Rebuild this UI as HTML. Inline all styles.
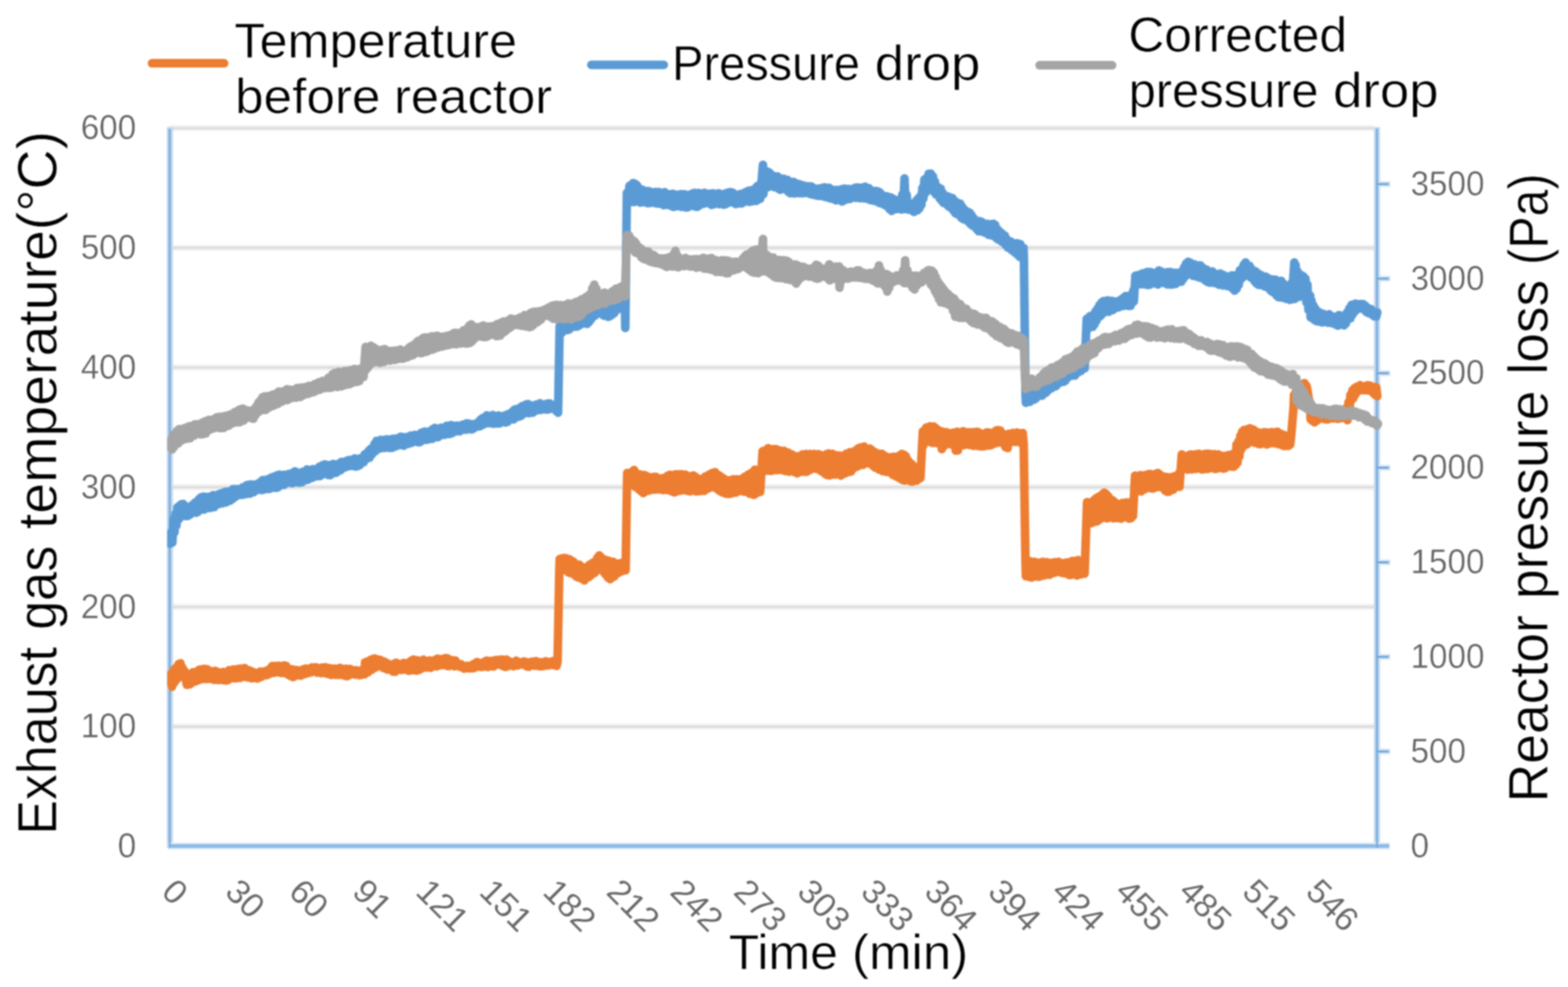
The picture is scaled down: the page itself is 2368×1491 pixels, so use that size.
<!DOCTYPE html>
<html lang="en">
<head>
<meta charset="utf-8">
<title>Exhaust gas temperature and reactor pressure loss</title>
<style>
html,body{margin:0;padding:0;background:#fff;}
body{width:2368px;height:1491px;overflow:hidden;}
svg{display:block;filter:blur(0.8px);}
text{font-family:"Liberation Sans", sans-serif;}
.tick{font-size:52px;fill:#626262;stroke:#fff;stroke-width:0.5px;}
.lg{font-size:74.5px;fill:#000;stroke:#fff;stroke-width:0.7px;}
.ax{font-size:84px;fill:#000;stroke:#fff;stroke-width:0.7px;}
.s{fill:none;stroke-linejoin:round;stroke-linecap:round;stroke-width:13;}
</style>
</head>
<body>
<svg width="2368" height="1491" viewBox="0 0 2368 1491">
<rect width="2368" height="1491" fill="#fff"/>
<g stroke="#f1f1f1" stroke-width="9">
<line x1="255" y1="193.6" x2="2076" y2="193.6"/>
<line x1="255" y1="374.4" x2="2076" y2="374.4"/>
<line x1="255" y1="555.2" x2="2076" y2="555.2"/>
<line x1="255" y1="736.0" x2="2076" y2="736.0"/>
<line x1="255" y1="916.8" x2="2076" y2="916.8"/>
<line x1="255" y1="1097.6" x2="2076" y2="1097.6"/>
</g>
<g stroke="#dcdcdc" stroke-width="3.2">
<line x1="255" y1="193.6" x2="2076" y2="193.6"/>
<line x1="255" y1="374.4" x2="2076" y2="374.4"/>
<line x1="255" y1="555.2" x2="2076" y2="555.2"/>
<line x1="255" y1="736.0" x2="2076" y2="736.0"/>
<line x1="255" y1="916.8" x2="2076" y2="916.8"/>
<line x1="255" y1="1097.6" x2="2076" y2="1097.6"/>
</g>
<g stroke="#c3d9ef" stroke-width="9.4" fill="none">
<line x1="256.6" y1="192" x2="256.6" y2="1281"/>
<line x1="2079.5" y1="192" x2="2079.5" y2="1281"/>
</g>
<g stroke="#e6eff9" stroke-width="11.6" fill="none">
<line x1="254" y1="1278.1" x2="2099" y2="1278.1"/>
</g>
<g stroke="#d3e3f3" stroke-width="8.4" fill="none">
<line x1="2082" y1="1135.2" x2="2099.5" y2="1135.2"/>
<line x1="2082" y1="992.3" x2="2099.5" y2="992.3"/>
<line x1="2082" y1="849.5" x2="2099.5" y2="849.5"/>
<line x1="2082" y1="706.6" x2="2099.5" y2="706.6"/>
<line x1="2082" y1="563.8" x2="2099.5" y2="563.8"/>
<line x1="2082" y1="420.9" x2="2099.5" y2="420.9"/>
<line x1="2082" y1="278.1" x2="2099.5" y2="278.1"/>
</g>
<g stroke="#8fbce4" stroke-width="5.9" fill="none">
<line x1="254.9" y1="1278" x2="2098" y2="1278"/>
</g>
<g stroke="#7aacdd" stroke-width="3.1" fill="none">
<line x1="256.3" y1="194.5" x2="256.3" y2="1281"/>
<line x1="2079.5" y1="194.5" x2="2079.5" y2="1281"/>
</g>
<g stroke="#66a1d8" stroke-width="2.9" fill="none">
<line x1="2080" y1="1135.2" x2="2097.5" y2="1135.2"/>
<line x1="2080" y1="992.3" x2="2097.5" y2="992.3"/>
<line x1="2080" y1="849.5" x2="2097.5" y2="849.5"/>
<line x1="2080" y1="706.6" x2="2097.5" y2="706.6"/>
<line x1="2080" y1="563.8" x2="2097.5" y2="563.8"/>
<line x1="2080" y1="420.9" x2="2097.5" y2="420.9"/>
<line x1="2080" y1="278.1" x2="2097.5" y2="278.1"/>
</g>
<clipPath id="plot"><rect x="252.6" y="180" width="1838" height="1110"/></clipPath>
<g clip-path="url(#plot)">
<polyline class="s" stroke="#ed7d31" points="257.0,1030.5 258.4,1017.7 259.8,1037.4 261.2,1014.9 262.6,1032.3 264.0,1010.4 265.4,1028.2 266.8,1007.9 268.2,1025.1 269.7,1003.1 271.1,1018.6 272.5,1001.9 273.9,1019.3 275.2,1008.1 276.6,1022.8 278.0,1012.8 282.2,1034.5 282.8,1019.0 284.0,1032.8 285.5,1018.1 287.0,1033.7 288.5,1018.9 290.0,1030.4 291.5,1015.6 293.0,1030.0 294.5,1016.8 296.0,1028.8 297.5,1014.3 299.0,1027.9 300.5,1011.8 302.0,1026.2 303.5,1011.4 305.0,1025.9 306.5,1010.7 308.0,1025.3 309.6,1010.6 311.1,1025.8 312.6,1010.9 314.1,1024.4 315.7,1013.3 317.2,1025.6 318.7,1013.9 320.2,1024.9 321.7,1015.7 323.3,1027.1 324.8,1013.5 326.3,1026.3 327.8,1014.6 329.3,1027.3 330.9,1016.2 332.4,1026.7 333.9,1016.7 335.4,1027.3 337.0,1015.1 338.5,1027.4 340.0,1016.5 341.5,1028.1 342.9,1015.2 344.4,1027.2 345.9,1012.4 347.4,1025.2 348.8,1013.5 350.3,1024.6 351.8,1011.5 353.2,1024.5 354.7,1012.1 356.2,1024.7 357.6,1010.9 359.1,1023.7 360.6,1010.5 362.1,1024.3 363.5,1010.1 365.0,1022.9 366.5,1010.1 367.9,1021.2 369.4,1009.2 370.9,1022.8 372.4,1012.6 373.8,1023.3 375.3,1012.5 376.8,1022.1 378.2,1013.3 379.7,1024.5 381.2,1015.0 382.6,1024.2 384.1,1016.7 385.6,1023.0 387.1,1016.6 388.5,1025.0 390.0,1017.2 391.5,1023.7 393.0,1014.6 394.5,1022.5 396.0,1015.1 397.5,1019.3 399.0,1014.2 400.5,1020.1 402.0,1013.5 403.5,1019.7 405.0,1012.2 406.5,1018.1 408.0,1009.9 409.5,1016.4 411.0,1006.2 412.5,1016.6 414.0,1006.1 415.5,1015.2 417.0,1006.2 418.5,1015.6 420.0,1005.7 421.5,1015.4 423.0,1006.1 424.5,1016.5 426.0,1006.6 427.5,1016.6 429.0,1005.3 430.5,1016.4 432.0,1005.9 433.5,1018.0 435.0,1009.3 436.5,1020.1 438.0,1011.5 439.5,1021.6 441.0,1011.2 442.5,1022.9 444.0,1013.0 445.5,1021.2 447.0,1012.1 448.5,1020.3 450.0,1014.9 451.5,1020.2 453.0,1012.7 454.5,1020.5 456.0,1012.1 457.5,1018.2 459.0,1010.8 460.5,1018.3 462.0,1009.9 463.5,1016.9 465.0,1011.0 466.5,1016.4 468.0,1010.0 469.5,1015.7 471.0,1008.2 472.5,1014.6 474.0,1008.6 475.5,1014.1 477.1,1008.0 478.6,1016.2 480.1,1009.0 481.6,1015.3 483.1,1009.9 484.6,1016.9 486.2,1008.6 487.7,1015.2 489.2,1008.2 490.7,1016.8 492.2,1008.1 493.8,1017.7 495.3,1009.9 496.8,1017.8 498.3,1009.3 499.8,1019.5 501.3,1011.1 502.9,1018.9 504.4,1010.1 505.9,1019.2 507.4,1010.2 508.9,1019.2 510.4,1010.0 512.0,1019.5 513.5,1009.0 515.0,1018.5 516.5,1011.8 518.0,1020.0 519.6,1010.8 521.1,1020.8 522.6,1010.3 524.1,1021.5 525.7,1011.7 527.2,1019.9 528.7,1010.6 530.2,1017.5 531.8,1012.3 533.3,1016.3 534.8,1013.1 536.3,1019.1 537.9,1012.5 539.4,1017.7 540.9,1013.4 542.4,1019.9 544.0,1013.2 545.5,1019.4 547.0,1011.9 550.7,1018.5 551.3,1000.5 552.5,1016.7 554.0,999.5 555.5,1015.8 557.0,998.6 558.5,1012.7 560.0,996.4 561.4,1011.7 562.9,995.5 564.3,1009.4 565.7,994.7 567.1,1008.4 568.6,995.9 570.0,1003.7 572.7,996.5 573.3,1004.5 574.4,996.9 575.8,1004.9 577.2,999.9 578.6,1008.9 580.0,999.5 581.5,1009.1 583.0,1000.8 584.5,1011.4 586.0,1002.9 587.5,1011.1 589.0,1004.2 590.5,1012.4 592.0,1003.8 593.5,1014.6 595.0,1003.0 596.5,1014.7 598.0,1001.2 599.4,1012.4 600.9,1003.0 602.4,1011.3 603.9,1003.2 605.3,1012.1 606.8,1003.5 608.3,1011.7 609.8,1001.5 611.2,1011.1 612.7,1002.2 614.2,1011.9 615.7,1002.7 617.2,1013.3 618.6,999.7 620.1,1012.8 621.6,997.8 623.1,1010.6 624.5,996.4 626.0,1012.4 627.5,998.1 629.0,1013.1 630.5,997.5 632.0,1012.3 633.6,998.7 635.1,1010.8 636.6,998.6 638.1,1009.1 639.6,996.6 641.1,1008.2 642.7,998.5 644.2,1008.5 645.7,999.6 647.2,1008.1 648.7,997.7 650.2,1008.9 651.7,998.7 653.3,1006.2 654.8,998.6 656.3,1004.8 657.8,996.4 659.3,1006.8 660.8,994.9 662.3,1005.3 663.9,997.5 665.4,1004.9 666.9,995.7 668.4,1003.5 669.9,995.0 671.4,1004.7 673.0,994.1 674.5,1005.7 676.0,994.6 677.5,1006.3 679.0,997.5 680.4,1005.1 681.9,997.5 683.4,1005.5 684.9,997.6 686.3,1006.6 687.8,998.0 689.3,1005.5 690.7,1001.8 692.2,1006.3 693.7,1003.2 695.1,1007.5 696.6,1003.6 698.1,1007.5 699.6,1006.0 701.0,1010.2 702.5,1007.9 704.0,1009.3 705.5,1005.8 706.9,1009.6 708.4,1006.3 709.9,1009.4 711.4,1005.5 712.8,1009.6 714.3,1003.5 715.8,1009.2 717.3,1002.1 718.8,1007.8 720.2,1000.2 721.7,1007.0 723.2,1001.9 724.7,1007.0 726.1,1001.5 727.6,1007.6 729.1,1001.9 730.6,1006.8 732.0,999.5 733.5,1006.0 735.0,997.9 736.5,1007.5 738.0,999.5 739.5,1006.3 740.9,998.4 742.4,1006.5 743.9,998.6 745.4,1006.8 746.9,997.5 748.4,1004.7 749.9,996.9 751.4,1003.8 752.8,997.7 754.3,1003.2 755.8,996.4 757.3,1005.0 758.8,996.5 760.3,1006.5 761.8,997.3 763.2,1007.5 764.7,996.4 766.2,1006.7 767.7,998.4 769.2,1004.7 770.7,1000.0 772.2,1003.9 773.6,1000.3 775.1,1006.4 776.6,1000.6 778.1,1005.3 779.6,998.1 781.1,1005.4 782.6,999.8 784.1,1004.6 785.5,1000.6 787.0,1003.5 788.5,1001.0 790.0,1002.5 791.5,999.2 793.0,1005.3 794.4,1000.0 795.9,1006.9 797.4,1000.7 798.9,1007.2 800.4,1000.5 801.9,1005.4 803.3,999.6 804.8,1004.4 806.3,1000.1 807.8,1005.7 809.3,998.8 810.8,1004.3 812.2,1000.7 813.7,1006.3 815.2,1000.3 816.7,1006.4 818.2,1001.2 819.6,1006.2 821.1,1000.1 822.6,1005.8 824.1,999.0 825.6,1004.4 827.1,999.9 828.5,1005.1 830.0,1000.1 831.5,1004.3 833.0,999.6 834.5,1004.3 836.0,998.4 837.5,1004.9 839.0,1000.5 840.5,1005.9 842.0,1000.1 844.7,861.5 845.3,844.5 846.4,860.5 847.9,843.4 849.3,859.4 850.7,843.1 852.1,861.0 853.6,843.0 855.0,861.8 856.5,844.1 858.1,864.5 859.6,844.7 861.1,865.7 862.6,846.8 864.2,865.9 865.7,848.6 867.2,868.0 868.8,852.3 870.3,871.1 871.8,852.8 873.3,872.4 874.9,853.2 876.4,871.5 877.9,855.9 879.4,874.7 881.0,857.0 882.5,876.7 884.0,858.9 885.5,873.0 887.0,856.8 888.5,871.9 890.0,853.2 891.5,869.7 893.0,851.4 894.5,867.1 896.0,849.6 897.5,865.7 899.0,847.9 900.5,862.6 902.0,842.8 903.5,858.7 905.0,838.9 906.5,859.5 908.0,842.3 909.5,860.9 911.0,844.7 912.5,865.6 914.0,845.7 915.5,868.9 917.0,846.5 918.5,873.0 920.0,847.4 921.5,874.9 923.1,849.6 924.6,872.3 926.2,848.8 927.7,871.0 929.2,851.0 930.8,866.5 932.3,851.5 933.8,865.6 935.4,851.3 936.9,863.7 938.5,850.4 940.0,862.6 944.2,849.5 944.8,861.5 947.2,714.5 947.8,733.5 948.9,716.8 950.4,733.6 951.8,715.9 953.2,732.9 954.6,712.5 956.1,732.2 957.5,709.9 959.1,735.5 960.6,714.4 962.2,736.6 963.8,716.5 965.3,739.8 966.9,716.7 968.4,742.5 970.0,718.3 971.5,745.0 972.9,717.4 974.4,742.9 975.9,718.7 977.4,740.6 978.8,720.2 980.3,741.2 981.8,722.0 983.2,739.6 984.7,721.0 986.2,739.6 987.6,720.6 989.1,739.4 990.6,720.4 992.1,739.2 993.5,722.4 995.0,739.2 996.5,724.0 998.0,739.1 999.4,722.5 1000.9,740.3 1002.4,722.5 1003.9,740.1 1005.3,720.8 1006.8,739.1 1008.3,718.6 1009.8,740.6 1011.2,717.2 1012.7,741.4 1014.2,717.8 1015.7,742.8 1017.2,718.6 1018.6,743.8 1020.1,716.5 1021.6,742.7 1023.1,716.8 1024.5,741.6 1026.0,716.4 1027.5,741.3 1029.0,716.6 1030.5,739.6 1032.0,717.0 1033.5,740.4 1035.0,717.0 1036.5,740.6 1038.0,719.0 1039.5,741.8 1041.0,719.3 1042.5,742.3 1044.0,719.3 1045.5,740.9 1047.0,718.2 1048.5,740.4 1050.0,720.1 1051.5,742.4 1053.0,722.2 1054.5,742.1 1056.0,724.3 1057.5,741.8 1059.0,724.2 1060.5,740.5 1062.0,722.8 1063.5,741.6 1065.0,719.8 1066.5,738.8 1068.0,718.8 1069.5,738.2 1071.0,716.8 1072.5,735.5 1074.0,715.2 1075.5,735.2 1077.0,713.9 1078.5,736.3 1080.0,713.3 1081.5,737.4 1083.0,716.8 1084.5,739.8 1086.0,718.1 1087.5,742.0 1089.0,720.3 1090.5,743.7 1092.0,722.3 1093.5,744.7 1095.0,724.3 1096.5,745.8 1097.9,725.5 1099.4,746.1 1100.9,725.8 1102.4,746.0 1103.8,725.9 1105.3,745.2 1106.8,724.1 1108.2,743.2 1109.7,724.5 1111.2,744.3 1112.6,724.1 1114.1,742.0 1115.6,725.0 1117.1,741.7 1118.5,724.1 1120.0,739.8 1121.5,722.8 1123.1,742.5 1124.6,720.2 1126.2,742.9 1127.7,718.7 1129.2,742.3 1130.8,716.4 1132.3,745.9 1133.8,714.9 1135.4,746.2 1136.9,713.1 1138.5,747.6 1140.0,709.4 1141.6,745.8 1143.2,712.0 1144.8,743.3 1146.4,710.9 1148.0,743.2 1151.7,681.5 1152.3,711.5 1153.6,681.1 1155.2,710.3 1156.8,679.7 1158.4,711.1 1160.0,677.0 1161.5,711.0 1163.0,678.9 1164.5,711.4 1166.0,678.5 1167.5,710.7 1169.0,678.4 1170.5,710.0 1172.0,678.4 1173.5,710.3 1175.0,681.2 1176.5,708.6 1178.0,680.6 1179.5,709.9 1181.0,682.3 1182.5,710.0 1184.0,681.1 1185.6,711.6 1187.1,683.0 1188.7,710.8 1190.2,683.7 1191.7,712.6 1193.3,685.8 1194.8,711.9 1196.3,686.7 1197.9,712.0 1199.4,688.8 1201.0,713.6 1202.5,690.1 1204.0,715.1 1205.5,689.2 1207.0,713.3 1208.5,688.5 1210.0,711.6 1211.5,686.6 1213.0,712.4 1214.5,686.4 1216.0,712.7 1217.5,685.8 1219.0,712.4 1220.5,687.3 1222.0,710.3 1223.5,685.8 1225.0,709.2 1226.5,686.5 1228.0,707.1 1229.5,685.7 1231.0,705.5 1232.5,686.8 1234.0,708.5 1235.6,685.9 1237.1,708.3 1238.7,687.3 1240.2,711.8 1241.7,689.0 1243.3,713.6 1244.8,687.7 1246.3,716.2 1247.9,686.1 1249.4,717.7 1251.0,685.1 1252.5,718.2 1254.0,686.1 1255.4,717.5 1256.9,685.4 1258.3,716.6 1259.8,687.4 1261.2,717.0 1262.7,687.7 1264.2,716.2 1265.6,688.3 1267.1,716.2 1268.5,688.2 1270.0,718.4 1271.5,689.2 1273.0,714.9 1274.6,688.3 1276.1,715.3 1277.6,685.6 1279.1,713.0 1280.7,684.6 1282.2,713.1 1283.7,683.0 1285.2,712.3 1286.7,683.0 1288.3,708.5 1289.8,683.2 1291.3,705.2 1292.8,679.9 1294.3,705.1 1295.9,677.4 1297.4,703.3 1298.9,675.9 1300.4,702.0 1302.0,677.2 1303.5,702.2 1305.0,674.5 1306.5,699.7 1308.0,677.7 1309.5,699.5 1311.0,677.9 1312.5,700.0 1314.0,677.8 1315.5,700.5 1317.0,680.3 1318.5,703.8 1320.0,682.4 1321.5,706.5 1323.0,683.9 1324.5,706.7 1326.0,685.2 1327.5,709.5 1329.0,686.5 1330.4,709.0 1331.9,685.6 1333.3,711.8 1334.8,687.7 1336.2,711.8 1337.7,689.4 1339.2,713.1 1340.6,690.6 1342.1,712.5 1343.5,691.2 1345.0,714.1 1346.5,690.5 1348.1,717.2 1349.6,689.9 1351.2,718.6 1352.7,690.2 1354.2,720.2 1355.8,690.0 1357.3,721.6 1358.8,687.7 1360.4,723.7 1361.9,685.7 1363.5,725.2 1365.0,686.8 1366.5,726.1 1368.0,689.1 1369.5,724.0 1371.0,695.1 1372.5,724.7 1374.0,698.6 1375.5,727.3 1377.0,701.2 1378.5,727.4 1380.0,706.1 1381.4,725.6 1382.9,705.7 1384.3,726.2 1385.7,707.0 1387.1,723.7 1388.6,706.1 1390.0,722.3 1393.7,651.5 1394.3,673.5 1395.5,652.0 1397.0,667.8 1398.5,646.1 1400.0,666.7 1401.4,645.6 1402.9,666.6 1404.3,643.9 1405.7,668.2 1407.1,645.4 1408.6,669.2 1410.0,644.3 1411.6,668.6 1413.2,646.6 1414.8,669.4 1416.4,649.5 1418.0,669.4 1421.7,651.5 1422.3,678.5 1423.7,652.6 1425.3,673.9 1427.0,652.8 1428.4,669.2 1429.9,653.1 1431.3,669.5 1432.8,654.6 1434.2,670.8 1435.7,654.8 1437.1,671.5 1438.6,653.8 1440.0,672.8 1441.7,654.4 1443.3,680.7 1445.0,652.2 1446.7,680.4 1448.3,653.0 1450.0,670.0 1451.5,652.8 1452.9,671.1 1454.4,651.5 1455.9,672.5 1457.4,653.2 1458.8,671.5 1460.3,652.9 1461.8,671.0 1463.2,652.9 1464.7,672.3 1466.2,653.6 1467.6,672.1 1469.1,652.8 1470.6,673.5 1472.1,653.0 1473.5,672.0 1475.0,652.3 1476.5,673.6 1477.9,653.1 1479.4,674.0 1480.9,655.0 1482.4,674.3 1483.8,655.5 1485.3,674.2 1486.8,656.1 1488.2,673.6 1489.7,653.3 1491.2,672.1 1492.6,653.3 1494.1,673.0 1495.6,654.0 1497.1,672.2 1498.5,654.0 1500.0,670.4 1501.5,653.8 1503.0,669.8 1504.5,650.3 1506.0,668.5 1507.5,649.7 1509.0,668.4 1510.5,650.6 1512.0,667.8 1513.5,654.4 1515.0,669.3 1516.7,657.9 1518.3,675.3 1520.0,658.0 1521.7,676.8 1523.3,655.3 1525.0,668.2 1526.5,655.6 1528.0,667.6 1529.5,654.1 1531.0,667.1 1532.5,655.1 1534.0,667.6 1535.5,653.4 1537.0,666.0 1538.5,655.3 1540.0,667.1 1541.5,654.4 1543.0,670.2 1544.5,654.3 1546.0,670.8 1548.7,848.5 1549.3,870.5 1550.5,849.1 1552.0,870.6 1553.5,847.8 1555.0,871.8 1556.5,848.1 1558.0,872.5 1559.5,849.2 1561.0,871.2 1562.5,848.7 1564.0,870.7 1565.5,850.0 1567.0,871.1 1568.5,849.9 1570.0,871.2 1571.5,851.0 1573.0,869.0 1574.5,848.7 1576.0,869.4 1577.5,849.6 1579.0,868.6 1580.5,849.2 1582.0,867.6 1583.5,850.5 1585.0,868.3 1586.5,850.2 1588.0,865.7 1589.5,851.1 1591.0,865.6 1592.5,849.3 1594.0,864.8 1595.5,850.2 1597.0,863.1 1598.5,848.7 1600.0,863.1 1601.5,850.5 1602.9,865.3 1604.4,851.6 1605.9,865.8 1607.4,850.6 1608.8,866.3 1610.3,849.7 1611.8,866.6 1613.2,850.2 1614.7,868.5 1616.2,848.8 1617.6,868.5 1619.1,847.5 1620.6,867.3 1622.1,847.4 1623.5,867.9 1625.0,847.4 1626.4,869.4 1627.9,846.1 1629.3,868.3 1630.8,848.5 1632.2,867.8 1633.7,848.2 1635.1,865.8 1636.6,847.4 1638.0,866.6 1641.7,758.5 1642.3,788.5 1643.6,759.9 1645.2,789.4 1646.8,758.9 1648.4,790.2 1650.0,757.4 1651.5,788.2 1652.9,754.7 1654.4,788.1 1655.8,752.2 1657.3,787.4 1658.8,750.6 1660.2,785.2 1661.7,749.0 1663.1,782.7 1664.6,747.1 1666.0,782.1 1667.5,744.2 1669.0,780.9 1670.6,746.3 1672.1,783.1 1673.7,749.6 1675.2,782.1 1676.7,754.0 1678.3,781.5 1679.8,755.4 1681.3,782.9 1682.9,757.9 1684.4,782.6 1686.0,760.4 1687.5,782.6 1689.0,761.5 1690.4,782.6 1691.9,762.5 1693.3,783.5 1694.8,759.8 1696.2,781.7 1697.7,761.5 1699.2,781.2 1700.6,759.0 1702.1,780.9 1703.5,759.3 1705.0,783.4 1706.5,759.0 1708.0,782.9 1709.5,760.3 1711.0,779.8 1714.2,718.5 1714.8,741.5 1716.0,719.9 1717.5,741.9 1719.0,719.1 1720.5,741.3 1722.0,717.7 1723.5,742.4 1725.0,718.9 1726.5,739.6 1727.9,718.1 1729.4,738.9 1730.9,718.0 1732.4,737.0 1733.8,716.2 1735.3,736.4 1736.8,715.9 1738.2,737.7 1739.7,717.1 1741.2,738.1 1742.6,716.9 1744.1,735.5 1745.6,715.6 1747.1,735.9 1748.5,714.4 1750.0,735.3 1751.6,716.9 1753.1,735.7 1754.7,719.6 1756.2,736.7 1757.8,720.2 1759.4,741.1 1760.9,720.6 1762.5,742.9 1764.0,721.1 1765.5,742.8 1767.0,722.2 1768.5,739.8 1770.0,720.6 1771.5,739.7 1773.0,719.4 1774.5,736.5 1776.0,719.1 1777.5,734.5 1780.7,714.5 1781.3,735.5 1784.7,686.5 1785.3,709.5 1786.5,687.9 1788.0,706.3 1789.5,689.2 1791.0,707.7 1792.5,689.6 1794.0,709.5 1795.5,687.3 1797.0,708.8 1798.5,686.5 1800.0,709.2 1801.5,687.7 1802.9,707.5 1804.4,686.4 1805.9,708.4 1807.4,686.2 1808.8,706.7 1810.3,685.4 1811.8,707.4 1813.2,686.5 1814.7,709.2 1816.2,686.9 1817.6,709.0 1819.1,685.7 1820.6,708.1 1822.1,685.6 1823.5,708.6 1825.0,685.6 1826.5,707.0 1828.0,686.0 1829.5,707.0 1831.0,686.3 1832.5,707.4 1834.0,685.9 1835.5,708.5 1837.0,687.7 1838.5,707.8 1840.0,686.5 1841.5,706.5 1843.0,688.2 1844.5,706.9 1846.0,689.7 1847.5,707.9 1849.0,688.8 1850.5,706.9 1852.0,688.4 1853.5,704.9 1855.0,687.6 1856.5,704.2 1858.0,687.0 1859.5,704.8 1861.0,689.1 1862.5,705.1 1864.2,684.3 1865.8,703.1 1867.5,671.4 1868.9,698.9 1870.3,666.9 1871.8,689.7 1873.2,658.3 1874.6,679.1 1876.0,651.8 1877.4,674.7 1878.9,649.4 1880.3,671.5 1881.8,649.7 1883.2,671.5 1884.6,647.9 1886.1,668.9 1887.5,646.9 1889.0,665.9 1890.5,648.2 1892.0,666.0 1893.5,649.5 1895.0,668.9 1896.5,652.7 1898.0,668.1 1899.5,652.9 1901.0,670.7 1902.5,654.0 1904.0,670.9 1905.5,654.7 1906.9,669.4 1908.4,653.0 1909.9,668.8 1911.4,653.1 1912.8,671.4 1914.3,653.6 1915.8,670.2 1917.2,653.7 1918.7,669.5 1920.2,652.7 1921.6,669.3 1923.1,653.4 1924.6,669.2 1926.1,652.8 1927.5,670.1 1929.0,652.3 1930.5,670.9 1932.0,654.4 1933.5,671.3 1935.0,655.7 1936.5,672.7 1938.0,656.7 1939.5,673.7 1941.0,658.1 1942.5,673.4 1944.0,659.3 1945.5,673.6 1947.0,658.6 1948.5,671.4 1950.0,658.0 1953.7,613.5 1954.3,596.5 1955.6,606.7 1957.2,590.6 1958.8,599.3 1960.4,585.1 1962.0,591.0 1963.6,580.8 1965.2,587.9 1966.8,580.3 1968.4,584.1 1970.0,578.8 1971.7,585.4 1973.3,583.1 1975.0,592.4 1978.7,616.5 1979.3,633.5 1980.5,619.7 1982.0,635.8 1983.5,625.6 1985.0,638.0 1986.5,625.8 1987.9,635.9 1989.4,626.8 1990.8,633.9 1992.3,628.1 1993.8,632.3 1995.2,628.5 1996.7,631.4 1998.2,628.4 1999.6,633.0 2001.1,626.4 2002.5,633.5 2004.0,624.5 2005.5,633.6 2006.9,624.3 2008.4,632.3 2009.9,623.3 2011.4,632.1 2012.8,623.2 2014.3,632.1 2015.8,624.9 2017.2,631.8 2018.7,623.1 2020.2,632.7 2021.6,625.1 2023.1,632.1 2024.6,624.4 2026.1,631.4 2027.5,625.5 2029.0,630.6 2030.5,623.1 2032.0,632.1 2033.5,616.0 2035.0,634.7 2036.5,607.6 2038.0,619.7 2039.5,596.4 2041.0,604.4 2042.4,589.5 2043.9,601.5 2045.3,586.6 2046.8,596.0 2048.2,584.5 2049.7,591.8 2051.1,583.9 2052.6,589.0 2054.0,581.8 2055.5,589.3 2057.0,583.6 2058.5,589.2 2060.0,584.2 2061.5,589.5 2063.0,582.8 2064.5,589.4 2066.0,582.0 2067.6,589.9 2069.1,582.6 2070.7,590.2 2072.2,584.8 2073.8,594.0 2075.3,584.7 2076.9,596.8 2078.4,585.1 2080.0,598.5"/>
<polyline class="s" stroke="#5b9bd5" points="257.0,821.5 258.7,803.7 260.3,819.7 262.0,784.6 263.5,804.3 265.0,776.2 266.5,794.0 268.0,766.4 269.4,785.3 270.8,764.1 272.2,781.9 273.6,761.8 275.0,776.5 276.4,761.2 277.9,776.9 279.3,764.4 280.7,779.5 282.1,768.1 283.6,779.4 285.0,769.3 286.5,777.7 288.1,764.5 289.6,774.8 291.2,762.3 292.7,773.7 294.2,759.6 295.8,774.6 297.3,757.5 298.8,773.3 300.4,754.0 301.9,770.0 303.5,751.3 305.0,768.0 306.5,750.3 308.0,769.7 309.6,750.5 311.1,767.0 312.6,751.2 314.1,767.3 315.7,750.6 317.2,767.4 318.7,750.1 320.2,766.5 321.7,748.0 323.3,766.1 324.8,748.8 326.3,762.3 327.8,748.1 329.3,761.8 330.9,746.4 332.4,760.3 333.9,745.2 335.4,760.4 337.0,744.3 338.5,759.6 340.0,742.9 341.5,758.9 342.9,743.6 344.4,756.5 345.9,742.3 347.4,756.4 348.8,741.7 350.3,754.2 351.8,739.0 353.2,752.0 354.7,738.9 356.2,749.6 357.6,739.2 359.1,748.3 360.6,738.9 362.1,747.2 363.5,738.4 365.0,747.6 366.5,736.2 368.0,747.0 369.5,735.2 371.1,746.5 372.6,733.0 374.1,744.5 375.6,732.3 377.1,745.8 378.6,731.9 380.2,742.9 381.7,732.1 383.2,743.5 384.7,732.2 386.2,741.4 387.7,731.3 389.2,739.4 390.8,730.1 392.3,738.8 393.8,727.6 395.3,740.4 396.8,725.3 398.3,739.6 399.8,726.6 401.4,737.8 402.9,724.5 404.4,738.8 405.9,723.8 407.4,738.4 408.9,721.7 410.5,736.6 412.0,720.6 413.5,736.3 415.0,719.4 416.5,737.0 418.0,718.2 419.5,736.3 421.1,717.1 422.6,733.9 424.1,719.2 425.6,731.9 427.1,717.6 428.6,732.5 430.2,717.2 431.7,730.2 433.2,718.9 434.7,729.0 436.2,715.9 437.7,728.8 439.2,716.0 440.8,730.0 442.3,713.9 443.8,728.8 445.3,712.1 446.8,728.3 448.3,713.5 449.8,728.8 451.4,714.5 452.9,728.9 454.4,714.5 455.9,728.5 457.4,712.7 458.9,726.2 460.5,712.1 462.0,725.0 463.5,709.3 465.0,724.6 466.5,710.4 468.0,722.5 469.5,709.7 471.1,722.0 472.6,708.8 474.1,720.4 475.6,709.7 477.1,719.5 478.6,708.6 480.2,719.2 481.7,705.5 483.2,719.2 484.7,704.0 486.2,716.9 487.7,702.5 489.2,715.6 490.8,701.6 492.3,716.2 493.8,702.4 495.3,717.5 496.8,704.2 498.3,717.8 499.8,702.2 501.4,715.5 502.9,701.0 504.4,714.4 505.9,701.4 507.4,714.2 508.9,701.7 510.5,711.6 512.0,700.5 513.5,710.8 515.0,698.0 516.5,708.1 518.0,697.7 519.4,706.5 520.9,698.4 522.4,705.6 523.9,696.0 525.3,704.6 526.8,694.9 528.3,703.7 529.8,695.0 531.2,703.7 532.7,693.9 534.2,704.0 535.7,692.6 537.2,704.8 538.6,694.4 540.1,704.1 541.6,693.0 543.1,702.5 544.5,692.5 546.0,699.5 547.5,691.2 549.0,698.3 550.5,686.6 552.0,694.3 553.5,684.9 555.0,691.9 556.5,681.3 558.0,691.5 559.5,678.3 561.0,687.1 562.5,676.6 564.0,683.5 565.5,670.5 567.0,681.3 568.5,666.1 570.0,677.1 571.5,666.6 573.1,677.7 574.6,664.6 576.2,676.9 577.7,665.0 579.2,676.5 580.8,664.5 582.3,676.5 583.8,663.7 585.4,675.1 586.9,664.4 588.5,676.7 590.0,663.7 591.5,676.6 593.0,662.9 594.5,675.5 596.1,662.8 597.6,674.2 599.1,663.7 600.6,673.0 602.1,661.5 603.6,671.0 605.2,659.7 606.7,672.4 608.2,660.4 609.7,673.3 611.2,660.7 612.7,670.0 614.2,660.3 615.8,670.7 617.3,659.9 618.8,669.8 620.3,658.0 621.8,668.9 623.3,658.2 624.8,667.4 626.4,656.9 627.9,667.1 629.4,657.4 630.9,667.9 632.4,657.2 633.9,668.1 635.5,654.3 637.0,665.7 638.5,653.1 640.0,664.3 641.5,651.9 643.0,664.5 644.5,652.8 646.1,664.0 647.6,652.7 649.1,661.5 650.6,650.5 652.1,663.1 653.6,648.3 655.2,661.4 656.7,646.5 658.2,658.9 659.7,648.3 661.2,660.5 662.7,648.0 664.2,657.9 665.8,646.3 667.3,656.4 668.8,646.4 670.3,656.9 671.8,645.3 673.3,656.2 674.8,643.2 676.4,655.5 677.9,644.9 679.4,655.6 680.9,642.3 682.4,654.4 683.9,642.9 685.5,652.4 687.0,643.6 688.5,651.7 690.0,642.9 691.5,650.8 692.9,643.9 694.4,651.5 695.9,642.7 697.4,649.3 698.8,641.5 700.3,647.4 701.8,641.4 703.2,649.2 704.7,639.6 706.2,648.6 707.6,639.8 709.1,647.6 710.6,640.6 712.1,648.8 713.5,640.9 715.0,647.4 716.5,641.2 718.1,645.1 719.6,639.3 721.2,644.4 722.7,637.6 724.2,644.1 725.8,633.8 727.3,642.5 728.8,631.6 730.4,641.1 731.9,631.7 733.5,639.6 735.0,627.4 736.5,638.2 738.0,628.6 739.5,639.3 741.0,629.0 742.5,639.6 744.0,626.9 745.5,640.2 747.0,628.4 748.5,639.2 750.0,629.9 751.5,639.7 753.0,627.7 754.5,639.6 756.0,628.9 757.5,637.2 759.0,629.6 760.5,637.3 762.0,627.8 763.5,638.2 765.0,626.7 766.5,637.2 767.9,625.4 769.4,634.4 770.9,624.4 772.4,633.0 773.8,621.7 775.3,633.6 776.8,618.9 778.2,629.6 779.7,618.1 781.2,630.0 782.6,617.6 784.1,629.3 785.6,615.8 787.1,628.0 788.5,613.5 790.0,625.1 791.5,612.8 793.0,622.8 794.4,611.1 795.9,623.9 797.4,610.5 798.9,624.3 800.4,612.3 801.9,622.9 803.3,612.8 804.8,623.3 806.3,613.6 807.8,620.8 809.3,611.3 810.8,620.1 812.2,611.1 813.7,619.1 815.2,609.2 816.7,619.3 818.2,611.6 819.6,618.4 821.1,611.2 822.6,617.7 824.1,610.5 825.6,618.8 827.1,609.5 828.5,618.4 830.0,609.5 831.5,617.4 832.9,611.2 834.3,616.8 835.8,612.0 837.2,618.0 838.6,611.8 840.0,621.0 842.2,611.5 842.8,623.5 845.2,492.5 845.8,505.5 846.9,494.2 848.3,502.7 849.7,493.6 851.1,499.5 852.5,491.9 854.0,498.2 855.4,489.8 856.9,498.7 858.3,489.0 859.8,497.5 861.2,486.0 862.7,494.7 864.2,484.3 865.6,492.5 867.1,481.9 868.5,493.4 870.0,479.4 871.5,493.3 873.0,479.4 874.5,491.7 876.0,479.0 877.5,489.6 879.0,479.1 880.5,488.7 882.0,478.9 883.5,488.5 885.0,480.4 886.5,489.3 887.9,476.8 889.4,486.7 890.8,475.4 892.3,482.7 893.8,470.3 895.2,478.9 896.7,466.5 898.1,477.1 899.6,463.9 901.0,473.7 902.5,462.7 904.0,471.8 905.4,464.3 906.9,473.5 908.3,464.0 909.8,475.5 911.2,463.9 912.7,477.1 914.2,466.4 915.6,476.8 917.1,467.1 918.5,478.7 920.0,468.0 921.6,477.4 923.1,466.4 924.7,475.0 926.2,464.0 927.8,472.6 929.4,460.0 930.9,468.5 932.5,458.2 934.0,466.1 935.5,456.6 937.0,465.7 938.5,457.5 940.0,466.7 943.7,461.5 944.3,495.5 946.7,291.5 947.3,308.5 950.7,280.5 951.3,305.5 952.7,280.9 954.3,304.3 956.0,276.6 957.5,305.3 959.0,277.5 960.5,303.2 962.0,279.8 963.5,303.5 965.0,284.0 966.5,305.9 967.9,286.0 969.4,305.8 970.8,286.9 972.3,305.1 973.8,289.1 975.2,305.6 976.7,288.8 978.1,307.0 979.6,288.7 981.0,306.8 982.5,292.2 984.0,306.0 985.5,290.6 987.0,306.0 988.5,290.2 990.0,307.0 991.5,290.1 993.0,307.4 994.5,290.1 996.0,307.4 997.5,291.5 999.0,307.9 1000.5,291.4 1002.0,309.9 1003.5,290.3 1005.0,308.8 1006.5,292.7 1008.0,309.5 1009.5,293.9 1011.0,308.8 1012.5,293.6 1014.0,311.3 1015.5,292.8 1017.0,312.5 1018.5,293.5 1020.0,311.9 1021.5,295.3 1023.0,311.2 1024.5,294.3 1026.1,311.6 1027.6,293.2 1029.1,312.6 1030.6,293.6 1032.1,312.1 1033.6,293.6 1035.2,313.2 1036.7,295.3 1038.2,313.2 1039.7,294.2 1041.2,311.5 1042.7,293.9 1044.2,309.2 1045.8,292.2 1047.3,311.3 1048.8,291.3 1050.3,312.2 1051.8,292.9 1053.3,312.5 1054.8,291.5 1056.4,310.3 1057.9,293.4 1059.4,308.0 1060.9,291.9 1062.4,307.8 1063.9,291.3 1065.5,306.9 1067.0,292.8 1068.5,306.1 1070.0,294.8 1071.5,307.7 1073.0,292.4 1074.5,309.5 1076.1,291.9 1077.6,308.9 1079.1,292.7 1080.6,307.2 1082.1,293.0 1083.6,305.9 1085.2,292.0 1086.7,308.4 1088.2,293.8 1089.7,308.2 1091.2,294.3 1092.7,309.3 1094.2,292.5 1095.8,308.5 1097.3,291.5 1098.8,306.6 1100.3,290.8 1101.8,305.8 1103.3,290.3 1104.8,305.3 1106.4,291.2 1107.9,306.6 1109.4,293.5 1110.9,308.2 1112.4,294.2 1113.9,307.6 1115.5,295.4 1117.0,305.9 1118.5,293.0 1120.0,307.4 1121.5,292.9 1123.1,305.4 1124.6,291.0 1126.2,304.3 1127.7,289.6 1129.2,304.0 1130.8,288.1 1132.3,304.9 1133.8,288.2 1135.4,304.2 1136.9,286.5 1138.5,302.5 1140.0,286.0 1141.6,303.5 1143.2,281.4 1144.8,301.9 1146.4,279.3 1148.0,300.2 1152.2,249.0 1152.8,293.5 1156.7,258.5 1157.3,283.5 1158.6,258.9 1160.2,282.7 1161.8,260.7 1163.4,280.1 1165.0,264.0 1166.5,280.9 1168.0,265.9 1169.5,282.7 1171.0,267.6 1172.5,283.2 1174.0,266.5 1175.5,285.0 1177.0,269.3 1178.5,286.7 1180.0,270.5 1181.5,285.0 1183.0,270.0 1184.5,284.9 1186.0,271.9 1187.5,286.9 1189.0,271.7 1190.5,289.9 1192.0,275.0 1193.5,291.9 1195.0,275.3 1196.5,290.8 1198.0,274.7 1199.5,292.2 1201.0,276.5 1202.5,291.2 1204.0,278.5 1205.5,291.8 1207.0,278.1 1208.5,291.8 1210.0,279.4 1211.5,292.1 1213.0,280.1 1214.5,291.2 1216.0,281.0 1217.5,291.5 1219.0,282.6 1220.5,291.6 1222.0,281.6 1223.5,293.0 1225.0,281.6 1226.5,294.0 1228.0,283.8 1229.5,293.4 1231.0,284.8 1232.5,295.2 1234.0,285.6 1235.5,295.7 1237.0,284.8 1238.5,295.9 1240.0,284.5 1241.5,295.9 1243.0,283.5 1244.5,297.1 1246.0,283.1 1247.5,298.0 1249.0,284.4 1250.5,298.3 1252.0,283.8 1253.5,299.8 1255.0,286.2 1256.5,299.5 1258.0,286.7 1259.5,301.3 1261.0,288.2 1262.5,302.7 1264.0,286.9 1265.5,302.0 1267.0,288.4 1268.5,302.2 1270.0,286.3 1271.5,304.2 1273.0,285.2 1274.5,302.7 1276.0,284.9 1277.5,301.4 1279.0,286.1 1280.5,300.8 1282.0,285.5 1283.5,300.6 1285.0,286.4 1286.5,298.7 1288.0,285.8 1289.5,297.9 1291.0,283.7 1292.5,299.0 1294.0,283.2 1295.5,297.4 1297.0,283.5 1298.5,299.5 1300.0,283.7 1301.5,298.8 1303.0,284.3 1304.5,299.8 1306.0,281.9 1307.5,297.9 1309.0,284.5 1310.4,300.6 1311.9,284.2 1313.4,301.7 1314.9,287.2 1316.3,302.5 1317.8,288.9 1319.3,303.2 1320.7,288.7 1322.2,302.9 1323.7,288.6 1325.1,305.0 1326.6,289.5 1328.1,306.5 1329.6,291.6 1331.0,307.2 1332.5,295.6 1334.1,308.5 1335.6,296.4 1337.2,310.4 1338.8,296.4 1340.3,311.9 1341.9,298.2 1343.4,316.0 1345.0,298.1 1346.5,318.6 1347.9,300.1 1349.4,316.1 1350.8,301.7 1352.3,316.0 1353.7,302.1 1355.2,314.8 1356.6,302.6 1358.1,315.7 1359.5,304.2 1361.0,316.5 1362.7,293.6 1364.3,316.1 1366.0,269.5 1367.7,314.7 1369.3,294.6 1371.0,316.6 1372.5,306.3 1374.0,316.9 1375.5,307.9 1377.0,318.1 1378.5,309.6 1380.0,320.0 1381.4,306.6 1382.9,318.5 1384.3,302.1 1385.7,317.6 1387.1,299.4 1388.6,314.6 1390.0,295.8 1391.5,309.4 1393.0,283.9 1394.5,300.0 1396.0,271.2 1397.6,291.2 1399.2,268.8 1400.9,287.7 1402.5,262.4 1404.2,285.8 1405.8,262.3 1407.5,285.1 1409.0,266.4 1410.5,290.0 1412.0,274.4 1413.5,293.7 1415.0,281.8 1416.4,295.2 1417.9,283.8 1419.3,299.9 1420.7,285.3 1422.1,303.2 1423.6,291.5 1425.0,306.6 1426.5,295.1 1427.9,307.0 1429.4,296.2 1430.9,310.4 1432.4,297.1 1433.8,312.8 1435.3,299.8 1436.8,314.3 1438.2,299.3 1439.7,318.0 1441.2,303.2 1442.6,322.1 1444.1,305.1 1445.6,323.5 1447.1,307.8 1448.5,324.5 1450.0,307.6 1451.5,328.9 1452.9,312.2 1454.4,330.9 1455.9,316.2 1457.4,331.9 1458.8,318.7 1460.3,333.4 1461.8,320.2 1463.2,335.7 1464.7,321.6 1466.2,338.9 1467.6,325.7 1469.1,341.2 1470.6,329.9 1472.1,342.7 1473.5,333.2 1475.0,346.3 1476.5,334.8 1477.9,349.4 1479.4,334.1 1480.9,349.6 1482.4,335.3 1483.8,350.0 1485.3,338.1 1486.8,351.3 1488.2,338.2 1489.7,351.9 1491.2,338.2 1492.6,354.6 1494.1,339.8 1495.6,355.3 1497.1,338.6 1498.5,355.9 1500.0,338.1 1501.5,356.4 1502.9,340.0 1504.4,359.5 1505.9,346.0 1507.4,362.0 1508.8,349.0 1510.3,363.0 1511.8,351.6 1513.2,365.4 1514.7,354.2 1516.2,367.1 1517.6,356.2 1519.1,370.8 1520.6,361.4 1522.1,374.2 1523.5,364.4 1525.0,374.2 1526.5,365.0 1527.9,378.0 1529.4,367.7 1530.8,379.9 1532.3,368.1 1533.8,382.5 1535.2,367.4 1536.7,384.9 1538.1,367.9 1539.6,387.7 1541.0,368.9 1542.5,389.4 1545.7,374.5 1546.3,389.5 1548.7,594.5 1549.3,608.5 1550.5,594.5 1552.1,607.3 1553.6,592.9 1555.1,607.0 1556.6,592.5 1558.2,604.2 1559.7,590.6 1561.2,603.8 1562.8,589.9 1564.3,602.0 1565.8,589.6 1567.4,598.4 1568.9,587.4 1570.4,597.6 1571.9,585.0 1573.5,597.8 1575.0,585.0 1576.5,594.8 1577.9,582.4 1579.4,593.4 1580.9,580.3 1582.4,590.3 1583.8,578.6 1585.3,587.5 1586.8,574.3 1588.2,586.3 1589.7,572.9 1591.2,583.7 1592.6,570.7 1594.1,583.6 1595.6,569.7 1597.1,580.4 1598.5,568.6 1600.0,578.3 1601.5,565.4 1602.9,577.1 1604.4,564.6 1605.9,576.7 1607.4,563.1 1608.8,575.0 1610.3,560.6 1611.8,571.0 1613.2,558.8 1614.7,568.5 1616.2,558.9 1617.6,567.3 1619.1,557.1 1620.6,567.4 1622.1,553.8 1623.5,567.2 1625.0,551.9 1626.4,563.5 1627.9,551.0 1629.3,561.9 1630.8,551.0 1632.2,560.4 1633.7,547.1 1635.1,557.2 1636.6,544.0 1638.0,556.5 1641.2,481.5 1641.8,498.5 1642.9,480.7 1644.3,493.7 1645.8,477.7 1647.2,493.0 1648.6,477.1 1650.0,493.7 1651.5,474.8 1653.0,489.8 1654.5,470.2 1656.0,484.3 1657.5,466.0 1659.0,479.2 1660.5,460.7 1662.0,477.1 1663.5,457.0 1665.0,473.8 1666.5,454.8 1668.0,471.5 1669.5,454.8 1671.0,470.8 1672.5,453.8 1674.0,471.1 1675.5,456.1 1677.0,468.3 1678.5,454.5 1680.0,468.6 1681.5,455.5 1683.0,466.2 1684.5,455.5 1686.0,464.4 1687.5,456.5 1689.0,464.4 1690.6,454.3 1692.1,462.6 1693.7,451.9 1695.2,462.4 1696.7,449.8 1698.3,460.8 1699.8,447.3 1701.3,461.6 1702.9,448.0 1704.4,462.2 1706.0,446.5 1707.5,461.9 1711.7,438.5 1712.3,455.5 1714.7,416.5 1715.3,431.0 1716.5,416.1 1718.0,429.9 1719.6,416.6 1721.1,427.8 1722.6,414.3 1724.1,429.5 1725.7,413.1 1727.2,428.1 1728.7,412.9 1730.2,429.7 1731.7,411.1 1733.3,430.6 1734.8,410.9 1736.3,429.9 1737.8,411.1 1739.3,427.7 1740.9,412.8 1742.4,426.6 1743.9,412.8 1745.4,428.6 1747.0,411.2 1748.5,429.8 1750.0,408.6 1751.5,427.6 1752.9,409.7 1754.4,426.4 1755.9,411.7 1757.4,427.6 1758.8,413.1 1760.3,427.5 1761.8,411.2 1763.2,429.8 1764.7,411.1 1766.2,429.4 1767.6,411.0 1769.1,430.0 1770.6,412.5 1772.1,429.0 1773.5,412.0 1775.0,429.1 1776.5,413.9 1778.0,426.5 1779.5,411.9 1781.0,425.9 1782.5,411.7 1784.0,425.5 1785.4,409.6 1786.8,421.6 1788.2,403.8 1789.7,417.6 1791.1,398.1 1792.5,410.2 1794.1,395.5 1795.6,412.5 1797.2,396.8 1798.8,414.8 1800.3,399.3 1801.9,416.8 1803.4,399.2 1805.0,416.2 1806.5,401.4 1808.1,418.2 1809.6,401.0 1811.2,419.3 1812.7,401.0 1814.2,418.6 1815.8,404.1 1817.3,421.5 1818.8,407.4 1820.4,423.9 1821.9,407.3 1823.5,425.9 1825.0,411.2 1826.5,427.0 1827.9,411.3 1829.4,426.1 1830.9,410.1 1832.4,427.2 1833.8,413.1 1835.3,426.1 1836.8,414.6 1838.2,428.7 1839.7,414.0 1841.2,430.2 1842.6,413.3 1844.1,429.2 1845.6,414.8 1847.1,431.2 1848.5,415.9 1850.0,429.5 1851.5,418.0 1852.9,431.9 1854.4,418.5 1855.8,432.8 1857.3,417.2 1858.7,433.5 1860.2,416.0 1861.6,436.1 1863.1,416.3 1864.5,439.1 1866.0,418.1 1867.6,436.0 1869.2,414.5 1870.8,429.9 1872.4,408.2 1874.0,421.6 1875.4,405.7 1876.8,418.7 1878.2,399.9 1879.6,415.4 1881.0,396.5 1882.5,414.1 1884.0,400.4 1885.5,415.8 1887.0,401.8 1888.5,419.1 1890.0,406.1 1891.5,420.5 1893.0,409.4 1894.5,424.8 1896.0,409.9 1897.5,428.2 1899.0,412.6 1900.6,430.3 1902.1,414.4 1903.7,430.6 1905.2,416.1 1906.8,431.2 1908.3,417.7 1909.8,432.8 1911.4,418.0 1912.9,433.7 1914.5,420.0 1916.0,435.5 1917.5,422.1 1918.9,439.0 1920.4,422.0 1921.8,441.2 1923.3,422.6 1924.8,442.1 1926.2,422.4 1927.7,446.3 1929.2,425.6 1930.6,449.0 1932.1,424.7 1933.5,448.9 1935.0,424.3 1936.4,449.7 1937.9,428.1 1939.3,448.9 1940.7,431.5 1942.1,451.4 1943.6,436.4 1945.0,451.2 1946.5,433.3 1948.0,453.0 1949.5,428.5 1951.0,452.2 1954.7,396.5 1955.3,451.5 1956.7,400.3 1958.3,447.5 1960.0,410.3 1962.2,448.5 1962.8,417.5 1964.0,446.2 1965.5,415.8 1967.0,446.9 1968.5,417.5 1970.0,446.6 1971.5,420.8 1973.0,457.0 1974.5,429.7 1976.0,468.3 1978.7,446.5 1979.3,479.5 1980.5,453.5 1982.0,480.8 1983.5,461.0 1985.0,483.4 1986.5,466.5 1988.0,485.1 1989.5,471.0 1991.0,485.7 1992.5,471.7 1993.9,484.5 1995.4,474.3 1996.8,487.1 1998.3,474.3 1999.8,485.7 2001.2,476.0 2002.7,486.5 2004.2,475.8 2005.6,487.6 2007.1,474.8 2008.5,486.6 2010.0,477.0 2011.5,488.3 2013.0,478.5 2014.5,488.5 2016.0,479.3 2017.5,490.5 2019.0,478.0 2020.5,491.9 2022.0,476.0 2023.5,489.9 2025.0,477.3 2026.5,489.3 2028.0,476.9 2029.5,491.5 2031.0,477.3 2032.7,488.3 2034.3,471.9 2036.0,482.4 2037.7,465.9 2039.3,480.9 2041.0,460.6 2042.5,475.3 2044.0,460.3 2045.5,471.0 2047.0,458.7 2048.4,468.2 2049.8,459.7 2051.1,465.2 2052.5,459.6 2054.0,464.7 2055.5,459.3 2057.0,466.4 2058.5,459.4 2060.0,467.6 2061.5,461.5 2063.0,470.9 2064.5,464.3 2066.0,472.7 2067.6,466.4 2069.1,473.8 2070.7,467.0 2072.2,475.3 2073.8,470.8 2075.3,477.9 2076.9,472.0 2078.4,478.1 2080.0,472.1"/>
<polyline class="s" stroke="#a5a5a5" points="257.0,675.0 258.4,663.9 259.8,678.9 261.2,659.1 262.6,675.2 264.0,655.2 265.6,670.3 267.1,650.9 268.7,670.0 270.3,648.2 271.9,666.6 273.4,648.4 275.0,664.7 276.5,647.6 278.0,663.7 279.4,646.5 280.9,661.5 282.4,645.5 283.9,662.4 285.4,644.1 286.9,662.0 288.3,643.6 289.8,658.7 291.3,643.2 292.8,658.3 294.3,640.9 295.7,655.6 297.2,641.3 298.7,655.2 300.2,640.7 301.7,656.0 303.1,639.9 304.6,656.1 306.1,637.9 307.6,655.2 309.1,636.6 310.6,654.7 312.0,637.1 313.5,650.8 315.0,634.2 316.5,648.7 318.0,635.2 319.5,648.0 321.1,634.1 322.6,646.7 324.1,632.5 325.6,645.9 327.1,630.6 328.6,645.8 330.2,630.0 331.7,646.6 333.2,629.6 334.7,646.6 336.2,629.6 337.7,646.5 339.2,628.4 340.8,642.9 342.3,628.0 343.8,643.6 345.3,627.5 346.8,642.0 348.3,626.1 349.8,639.4 351.4,625.3 352.9,638.9 354.4,622.4 355.9,636.3 357.4,622.4 358.9,638.0 360.5,619.2 362.0,637.8 363.5,618.1 365.0,634.8 366.5,617.3 367.9,635.2 369.4,619.4 370.8,632.3 372.3,619.8 373.8,630.3 375.2,620.5 376.7,629.9 378.1,621.6 379.6,631.8 381.0,620.9 382.5,632.5 384.1,617.6 385.6,627.4 387.2,613.6 388.8,623.3 390.3,607.9 391.9,621.3 393.4,604.4 395.0,618.1 396.5,599.9 398.1,619.1 399.6,598.8 401.1,619.3 402.6,599.8 404.2,616.6 405.7,598.2 407.2,615.0 408.8,597.4 410.3,613.8 411.8,596.1 413.3,612.6 414.9,596.3 416.4,610.9 417.9,594.0 419.4,610.2 421.0,591.4 422.5,607.5 424.0,592.6 425.5,606.8 427.1,591.6 428.6,604.1 430.1,590.4 431.6,604.3 433.1,588.0 434.6,604.2 436.2,588.8 437.7,601.6 439.2,589.0 440.7,601.3 442.2,589.1 443.8,600.3 445.3,589.0 446.8,600.8 448.3,586.2 449.8,598.2 451.3,586.9 452.9,599.7 454.4,585.5 455.9,598.2 457.4,585.8 458.9,596.5 460.4,584.9 462.0,595.1 463.5,584.2 465.0,595.0 466.5,583.0 467.9,593.8 469.4,583.4 470.9,591.4 472.4,582.3 473.8,592.3 475.3,580.2 476.8,590.5 478.2,580.4 479.7,589.2 481.2,577.6 482.6,588.8 484.1,577.5 485.6,586.9 487.1,575.5 488.5,586.4 490.0,575.8 491.5,586.2 493.0,574.4 494.5,585.0 496.0,570.6 497.5,586.0 499.0,569.6 500.5,585.5 502.0,565.5 503.5,583.8 505.0,563.4 506.5,582.9 508.0,564.0 509.5,584.6 511.0,561.8 512.5,583.3 514.0,562.8 515.5,583.7 517.0,563.0 518.5,582.6 520.0,560.5 521.5,581.6 523.0,561.3 524.5,580.7 526.0,559.9 527.5,580.6 529.0,559.2 530.5,579.0 532.0,560.4 533.5,576.3 535.0,557.5 536.5,577.0 538.0,558.9 539.5,576.7 541.0,557.8 542.5,575.6 544.1,557.8 545.8,570.7 547.4,555.4 549.0,569.3 552.2,524.0 552.8,558.5 554.0,526.1 555.5,555.6 557.0,524.0 558.5,551.6 560.0,522.3 561.5,548.2 563.0,523.9 564.5,547.4 566.0,526.0 567.5,545.7 569.0,527.8 570.5,546.8 572.0,529.2 573.5,547.9 575.0,530.3 576.5,547.0 578.0,527.9 579.5,546.7 581.0,527.6 582.5,544.6 584.0,529.6 585.5,543.9 587.0,530.1 588.5,544.8 590.0,531.5 591.5,542.8 592.9,530.1 594.4,543.5 595.9,530.1 597.4,543.4 598.8,529.4 600.3,541.0 601.8,529.6 603.2,541.7 604.7,528.1 606.2,541.8 607.6,530.0 609.1,541.7 610.6,530.5 612.1,538.5 613.5,529.9 615.0,539.7 616.5,526.4 617.9,537.7 619.4,523.9 620.9,537.2 622.4,522.3 623.8,536.4 625.3,521.8 626.8,533.9 628.2,517.9 629.7,532.7 631.2,515.1 632.6,531.5 634.1,515.9 635.6,533.5 637.1,512.1 638.5,532.9 640.0,509.9 641.5,531.4 643.0,509.7 644.5,531.3 646.0,510.3 647.5,529.7 649.0,509.0 650.5,528.3 652.0,507.9 653.5,527.9 655.0,509.3 656.5,526.6 658.0,507.6 659.5,524.7 661.0,507.6 662.5,524.7 664.0,509.0 665.5,523.5 667.0,509.7 668.5,523.3 670.0,508.5 671.5,521.8 673.0,508.0 674.5,521.7 676.0,507.3 677.5,521.2 679.0,506.6 680.5,519.4 682.0,505.9 683.5,519.9 685.0,503.3 686.5,519.0 688.0,502.8 689.5,520.0 691.0,504.1 692.5,518.5 694.0,504.2 695.5,519.0 697.0,501.4 698.5,517.9 700.0,499.0 701.5,518.4 703.0,499.2 704.4,519.0 705.8,495.9 707.2,518.6 708.6,491.9 710.0,518.0 711.5,489.9 713.0,515.7 714.5,492.8 716.0,511.9 717.5,496.7 719.0,509.6 720.5,494.5 722.0,508.2 723.5,495.9 725.0,507.2 726.5,493.2 728.0,508.8 729.5,491.7 731.0,509.2 732.5,492.6 734.0,509.0 735.5,493.8 737.0,507.5 738.5,493.5 740.0,504.2 741.6,493.1 743.1,505.3 744.7,492.7 746.2,504.7 747.8,492.4 749.4,507.7 750.9,489.4 752.5,507.4 754.0,489.2 755.4,506.7 756.9,487.3 758.4,503.0 759.9,485.8 761.3,501.6 762.8,486.4 764.3,499.1 765.7,484.9 767.2,496.8 768.7,483.5 770.1,494.7 771.6,481.3 773.1,492.9 774.6,483.0 776.0,490.7 777.5,482.6 779.0,488.9 780.4,481.8 781.9,490.9 783.4,480.9 784.9,491.4 786.3,479.2 787.8,492.2 789.3,479.4 790.7,491.1 792.2,476.1 793.7,492.9 795.1,477.0 796.6,493.2 798.1,475.2 799.6,494.3 801.0,472.9 802.5,493.4 804.0,471.4 805.4,491.2 806.9,470.8 808.3,487.4 809.8,471.7 811.2,486.9 812.7,470.4 814.2,484.5 815.6,469.9 817.1,482.5 818.5,470.0 820.0,478.0 821.5,468.0 823.1,476.5 824.6,467.1 826.2,477.1 827.7,464.9 829.2,477.6 830.8,463.7 832.3,479.6 833.8,461.7 835.4,481.6 836.9,461.3 838.5,481.5 840.0,460.5 841.5,482.3 843.0,461.7 844.5,481.6 846.0,460.8 847.5,481.8 849.0,461.6 850.5,480.7 852.0,461.4 853.5,482.2 855.0,460.1 856.5,480.3 858.0,458.4 859.5,481.1 861.0,458.9 862.5,482.4 864.0,459.6 865.5,480.4 867.0,457.4 868.5,479.4 870.0,456.0 871.5,479.3 873.1,456.4 874.6,478.3 876.2,453.6 877.7,476.5 879.2,451.7 880.8,472.8 882.3,451.4 883.8,468.5 885.4,448.2 886.9,467.8 888.5,446.5 890.0,464.5 891.5,443.6 893.0,464.5 894.5,435.6 896.0,462.8 897.5,429.9 899.1,462.0 900.8,436.4 902.4,461.4 904.0,446.0 905.5,459.9 906.9,445.3 908.4,457.6 909.8,443.7 911.3,457.9 912.7,441.9 914.2,458.5 915.6,443.7 917.1,455.4 918.5,444.5 920.0,454.3 921.5,443.6 922.9,454.4 924.4,440.2 925.8,453.6 927.3,438.9 928.8,453.1 930.2,436.0 931.7,452.1 933.1,436.3 934.6,450.6 936.0,434.1 937.5,447.2 939.1,432.6 940.8,446.9 942.4,432.6 944.0,447.9 946.7,355.5 947.3,375.5 949.7,355.5 950.3,373.5 951.6,358.9 953.2,374.0 954.8,362.7 956.4,377.4 958.0,364.7 959.5,381.5 961.0,368.5 962.5,382.4 964.0,373.0 965.5,384.2 967.0,374.6 968.5,388.7 970.0,377.8 971.5,390.9 972.9,379.6 974.4,391.9 975.9,380.0 977.4,391.9 978.8,380.0 980.3,394.4 981.8,383.2 983.2,395.7 984.7,385.5 986.2,396.3 987.6,385.7 989.1,397.2 990.6,388.8 992.1,396.9 993.5,389.7 995.0,398.1 996.5,391.3 997.9,398.9 999.4,390.3 1000.8,399.7 1002.3,390.6 1003.8,401.7 1005.2,390.2 1006.7,403.2 1008.2,389.2 1009.6,402.1 1011.1,388.6 1012.5,401.0 1014.0,391.0 1015.5,402.7 1017.0,384.2 1018.5,401.6 1020.0,378.8 1021.5,403.0 1023.0,386.2 1024.5,403.8 1026.0,392.0 1027.5,402.0 1029.0,391.1 1030.5,401.2 1032.0,391.1 1033.5,402.1 1035.0,389.8 1036.5,401.4 1038.0,391.2 1039.5,400.2 1041.0,392.0 1042.5,402.8 1044.0,392.9 1045.5,402.3 1047.0,391.8 1048.5,402.8 1050.0,391.5 1051.5,404.5 1053.0,391.5 1054.5,403.0 1056.0,392.0 1057.5,402.8 1059.0,391.6 1060.5,404.4 1062.0,389.4 1063.5,405.8 1065.0,390.9 1066.5,405.9 1068.0,391.3 1069.5,406.2 1071.0,390.5 1072.5,407.0 1074.0,389.7 1075.5,407.7 1077.0,391.7 1078.5,408.2 1080.0,392.6 1081.5,410.7 1083.0,394.6 1084.5,409.4 1086.0,395.5 1087.5,410.9 1089.0,393.3 1090.5,411.1 1092.0,393.0 1093.5,410.5 1095.0,394.2 1096.5,412.7 1097.9,393.5 1099.4,412.7 1100.9,394.4 1102.4,409.3 1103.8,395.4 1105.3,408.7 1106.8,396.0 1108.2,408.3 1109.7,395.5 1111.2,406.1 1112.6,395.4 1114.1,406.6 1115.6,395.4 1117.1,404.5 1118.5,394.9 1120.0,403.0 1121.5,391.0 1123.1,402.7 1124.6,387.2 1126.2,403.8 1127.7,384.4 1129.2,406.2 1130.8,383.8 1132.3,408.4 1133.8,381.4 1135.4,410.7 1136.9,378.6 1138.5,412.0 1140.0,377.7 1141.6,411.9 1143.2,377.1 1144.8,412.8 1146.4,379.2 1148.0,410.9 1152.2,361.0 1152.8,409.5 1156.7,384.5 1157.3,410.5 1159.7,386.5 1160.3,411.0 1161.6,387.7 1163.1,413.7 1164.7,389.6 1166.3,415.9 1167.9,389.1 1169.4,418.5 1171.0,392.4 1172.5,419.6 1173.9,393.0 1175.4,419.8 1176.8,392.7 1178.3,419.9 1179.8,393.6 1181.2,420.1 1182.7,393.1 1184.2,420.2 1185.6,393.6 1187.1,421.8 1188.5,393.9 1190.0,421.0 1191.6,396.1 1193.1,422.9 1194.7,398.9 1196.2,423.0 1197.8,399.9 1199.4,424.8 1200.9,399.6 1202.5,428.4 1204.0,400.5 1205.5,423.8 1207.0,402.2 1208.5,420.2 1210.0,404.0 1211.7,418.4 1213.3,403.1 1215.0,416.1 1216.6,404.9 1218.1,416.7 1219.7,406.0 1221.2,417.8 1222.8,407.3 1224.3,417.9 1225.9,405.5 1227.4,417.9 1229.0,406.6 1230.7,420.2 1232.3,400.1 1234.0,420.9 1235.7,401.4 1237.3,420.2 1239.0,408.1 1240.7,415.9 1242.3,406.0 1244.0,414.4 1247.7,405.5 1248.3,419.5 1252.2,399.5 1252.8,423.5 1256.7,405.5 1257.3,421.5 1258.5,404.1 1260.0,418.7 1261.5,402.8 1263.0,421.6 1267.2,402.5 1267.8,434.5 1271.7,407.5 1272.3,422.5 1273.4,408.5 1274.8,419.2 1276.1,410.8 1277.5,419.2 1279.0,411.4 1280.6,420.9 1282.1,412.2 1283.7,418.5 1285.2,410.3 1286.8,419.2 1288.3,411.7 1289.8,417.5 1291.4,410.1 1292.9,419.3 1294.5,408.5 1296.0,418.5 1297.5,408.6 1299.0,419.8 1300.5,411.1 1302.0,418.9 1303.5,411.9 1305.0,420.7 1306.5,412.8 1308.0,421.3 1309.5,413.7 1311.0,421.1 1312.5,412.5 1314.1,421.4 1315.7,413.3 1317.2,423.5 1318.8,412.0 1320.4,424.2 1322.0,413.2 1323.4,426.9 1324.8,407.6 1326.1,428.3 1327.5,400.9 1328.9,427.8 1330.2,407.9 1331.6,426.2 1333.0,413.8 1334.4,430.5 1335.8,414.8 1337.2,433.8 1338.6,414.0 1340.0,440.5 1341.5,415.5 1343.0,434.5 1344.5,417.5 1346.0,426.4 1347.6,418.9 1349.2,425.9 1350.9,417.7 1352.5,423.9 1354.1,416.1 1355.7,423.8 1357.2,418.3 1358.8,422.7 1360.4,418.1 1362.0,422.3 1363.7,408.7 1365.3,427.6 1367.0,393.2 1368.7,427.6 1370.3,408.3 1372.0,428.1 1373.5,417.4 1375.0,429.2 1376.5,416.8 1378.0,434.6 1379.5,416.4 1381.0,437.2 1382.7,416.6 1384.3,431.4 1386.0,417.0 1389.7,426.0 1390.3,416.5 1391.4,426.7 1392.8,415.2 1394.2,424.1 1395.6,412.1 1397.0,422.0 1398.4,412.1 1399.8,421.3 1401.1,408.6 1402.5,424.1 1404.1,408.1 1405.8,429.9 1407.4,408.9 1409.0,433.5 1410.5,412.3 1412.0,440.0 1413.5,418.9 1415.0,445.4 1416.5,425.3 1418.0,451.8 1419.5,429.5 1421.0,456.8 1422.5,433.4 1424.0,456.1 1425.5,437.8 1427.0,458.2 1428.5,441.6 1430.0,458.6 1431.5,443.9 1433.0,460.5 1434.5,447.3 1436.0,460.7 1437.6,449.3 1439.2,469.6 1440.9,451.1 1442.5,478.3 1444.0,455.6 1445.6,478.8 1447.1,458.5 1448.7,480.0 1450.2,459.5 1451.7,480.0 1453.3,464.1 1454.8,480.3 1456.3,465.6 1457.9,479.7 1459.4,466.7 1461.0,480.0 1462.5,471.0 1464.0,482.8 1465.4,473.0 1466.9,486.0 1468.4,473.7 1469.9,488.1 1471.3,474.3 1472.8,487.9 1474.3,476.7 1475.7,490.1 1477.2,478.6 1478.7,490.3 1480.1,479.5 1481.6,490.6 1483.1,481.3 1484.6,493.2 1486.0,480.3 1487.5,495.3 1489.0,480.2 1490.4,495.0 1491.9,483.4 1493.4,496.6 1494.9,485.3 1496.3,499.8 1497.8,485.5 1499.3,503.1 1500.7,487.4 1502.2,504.7 1503.7,489.6 1505.1,507.9 1506.6,493.3 1508.1,509.0 1509.6,493.8 1511.0,510.7 1512.5,496.2 1514.0,511.1 1515.6,496.8 1517.1,513.8 1518.6,499.8 1520.1,516.5 1521.7,503.1 1523.2,518.0 1524.7,503.3 1526.2,516.5 1527.8,503.8 1529.3,517.2 1530.8,505.5 1532.4,518.2 1533.9,506.4 1535.4,520.3 1536.9,507.3 1538.5,520.4 1540.0,510.6 1541.5,522.3 1543.0,510.7 1544.5,521.9 1546.0,513.3 1548.7,587.5 1549.3,571.5 1550.5,584.6 1552.0,572.0 1553.5,585.3 1555.0,573.1 1556.5,584.1 1558.0,572.1 1559.5,583.5 1561.0,574.5 1562.5,583.9 1564.0,575.6 1565.5,584.0 1567.0,574.6 1568.5,580.5 1570.0,570.1 1571.5,577.7 1573.0,567.7 1574.5,576.7 1576.0,564.1 1577.5,576.2 1579.0,561.3 1580.5,574.4 1582.0,559.5 1583.5,574.5 1585.0,558.2 1586.5,571.8 1588.0,555.2 1589.5,570.2 1591.0,554.9 1592.5,569.5 1594.0,554.8 1595.5,568.9 1597.0,551.4 1598.5,565.4 1600.0,550.6 1601.5,565.1 1603.0,548.3 1604.5,564.4 1606.0,546.2 1607.5,561.3 1609.0,542.8 1610.5,557.8 1612.0,541.8 1613.5,558.5 1615.0,541.3 1616.5,556.6 1618.0,539.3 1619.5,556.5 1621.0,537.8 1622.5,554.5 1624.0,534.6 1625.5,552.4 1627.0,531.0 1628.5,549.2 1630.0,530.0 1631.5,549.8 1633.0,528.1 1634.5,547.2 1636.0,525.4 1637.5,545.3 1639.0,525.0 1640.6,542.3 1642.1,524.8 1643.6,538.3 1645.1,521.6 1646.7,536.2 1648.2,519.5 1649.7,535.0 1651.2,519.3 1652.8,533.4 1654.3,517.6 1655.8,528.0 1657.4,515.9 1658.9,525.6 1660.4,514.0 1661.9,522.1 1663.5,513.1 1665.0,521.2 1666.5,510.0 1668.0,520.5 1669.6,509.1 1671.1,519.2 1672.6,510.3 1674.1,519.7 1675.7,509.6 1677.2,516.7 1678.7,509.9 1680.2,514.7 1681.7,507.7 1683.3,515.6 1684.8,505.9 1686.3,513.6 1687.8,507.0 1689.3,514.6 1690.9,504.8 1692.4,512.7 1693.9,503.1 1695.4,510.3 1697.0,501.7 1698.5,511.8 1700.0,500.0 1701.5,509.1 1703.0,497.7 1704.5,506.2 1706.0,496.7 1707.5,506.4 1709.0,496.3 1710.5,505.4 1712.0,495.0 1713.5,501.8 1715.0,491.3 1716.5,503.9 1718.0,490.4 1719.6,503.3 1721.1,491.8 1722.6,503.2 1724.1,493.2 1725.7,502.7 1727.2,493.1 1728.7,506.1 1730.2,493.0 1731.7,508.1 1733.3,493.4 1734.8,509.8 1736.3,495.9 1737.8,509.7 1739.3,495.5 1740.9,507.7 1742.4,498.0 1743.9,507.4 1745.4,497.6 1747.0,509.9 1748.5,500.2 1750.0,508.7 1751.5,502.0 1753.0,509.5 1754.5,500.5 1756.0,508.4 1757.5,499.8 1759.0,511.0 1760.5,499.0 1762.0,509.3 1763.5,498.0 1765.0,508.3 1766.5,498.3 1768.0,510.7 1769.5,497.4 1771.0,509.3 1772.5,500.1 1774.0,511.6 1775.5,501.8 1777.0,510.0 1778.5,500.3 1780.0,511.8 1781.5,500.0 1783.0,511.8 1784.5,499.2 1786.0,509.3 1787.5,498.9 1789.0,511.4 1790.4,502.1 1791.9,512.9 1793.4,503.5 1794.9,514.3 1796.3,505.0 1797.8,515.7 1799.3,508.0 1800.7,515.9 1802.2,509.6 1803.7,519.4 1805.1,512.2 1806.6,519.2 1808.1,514.9 1809.6,522.2 1811.0,514.2 1812.5,522.3 1814.0,514.2 1815.5,521.8 1817.0,517.1 1818.5,523.3 1820.0,518.6 1821.5,523.5 1823.0,516.5 1824.5,526.9 1826.0,518.6 1827.5,529.6 1829.0,519.6 1830.5,529.9 1832.0,520.8 1833.5,528.8 1835.0,520.9 1836.5,530.0 1838.0,519.8 1839.5,531.7 1841.0,520.2 1842.5,532.7 1844.0,520.9 1845.5,533.0 1847.0,521.5 1848.5,534.7 1850.0,524.5 1851.5,537.0 1853.1,525.5 1854.6,537.9 1856.1,524.0 1857.6,539.1 1859.2,523.2 1860.7,536.7 1862.2,523.8 1863.7,537.8 1865.3,523.5 1866.8,538.3 1868.3,523.3 1869.8,539.9 1871.4,523.9 1872.9,539.2 1874.4,524.6 1875.9,540.4 1877.5,526.8 1879.0,539.9 1880.5,527.5 1882.1,542.6 1883.6,528.6 1885.2,544.5 1886.7,533.4 1888.2,548.2 1889.8,534.5 1891.3,551.7 1892.9,537.6 1894.4,555.4 1896.0,540.7 1897.5,555.7 1899.0,543.6 1900.4,558.5 1901.9,545.1 1903.4,560.7 1904.9,547.6 1906.3,560.7 1907.8,548.2 1909.3,562.0 1910.7,549.5 1912.2,562.9 1913.7,551.9 1915.1,566.0 1916.6,553.7 1918.1,565.7 1919.6,554.0 1921.0,567.1 1922.5,556.3 1924.0,567.4 1925.4,555.7 1926.9,568.6 1928.4,556.6 1929.9,568.7 1931.3,558.5 1932.8,572.5 1934.3,560.0 1935.7,574.4 1937.2,562.4 1938.7,576.3 1940.1,564.4 1941.6,576.3 1943.1,565.2 1944.6,575.6 1946.0,566.7 1947.5,576.7 1949.1,566.2 1950.8,581.1 1952.4,565.1 1954.0,582.0 1957.7,571.5 1958.3,605.5 1962.2,581.5 1962.8,611.0 1963.9,586.0 1965.4,613.1 1966.8,588.9 1968.2,614.2 1969.6,593.7 1971.1,616.0 1972.5,600.5 1974.1,617.8 1975.6,603.4 1977.2,619.2 1978.8,607.8 1980.3,620.5 1981.9,612.5 1983.4,622.3 1985.0,616.3 1986.5,621.5 1987.9,618.4 1989.4,623.3 1990.9,616.6 1992.4,623.6 1993.8,618.1 1995.3,625.9 1996.8,616.7 1998.2,623.9 1999.7,617.6 2001.2,624.5 2002.6,619.8 2004.1,626.5 2005.6,619.1 2007.1,626.4 2008.5,619.9 2010.0,628.2 2011.5,618.9 2012.9,627.2 2014.4,618.1 2015.9,627.7 2017.4,617.4 2018.8,629.0 2020.3,619.0 2021.8,628.5 2023.2,618.3 2024.7,627.1 2026.2,619.4 2027.6,628.5 2029.1,620.3 2030.6,627.4 2032.1,622.5 2033.5,628.1 2035.0,622.1 2036.6,626.8 2038.1,621.1 2039.7,628.2 2041.2,620.0 2042.8,627.7 2044.4,621.0 2045.9,626.7 2047.5,621.9 2049.1,628.6 2050.6,624.2 2052.2,630.3 2053.8,624.2 2055.3,629.9 2056.9,625.5 2058.4,631.1 2060.0,626.2 2061.6,634.3 2063.1,627.7 2064.7,636.8 2066.2,631.6 2067.8,637.0 2069.4,634.5 2070.9,638.7 2072.5,634.8 2073.9,639.4 2075.3,635.2 2076.8,640.9 2078.2,637.3 2079.6,642.8 2081.0,640.0"/>
</g>
<g class="tick" text-anchor="end">
<text x="205.6" y="210.4" textLength="83.7" lengthAdjust="spacingAndGlyphs">600</text>
<text x="205.6" y="391.2" textLength="83.7" lengthAdjust="spacingAndGlyphs">500</text>
<text x="205.6" y="572.0" textLength="83.7" lengthAdjust="spacingAndGlyphs">400</text>
<text x="205.6" y="752.8" textLength="83.7" lengthAdjust="spacingAndGlyphs">300</text>
<text x="205.6" y="933.6" textLength="83.7" lengthAdjust="spacingAndGlyphs">200</text>
<text x="205.6" y="1114.4" textLength="83.7" lengthAdjust="spacingAndGlyphs">100</text>
<text x="205.6" y="1295.2" textLength="27.9" lengthAdjust="spacingAndGlyphs">0</text>
</g>
<g class="tick" text-anchor="start">
<text x="2130.2" y="294.7" textLength="111.6" lengthAdjust="spacingAndGlyphs">3500</text>
<text x="2130.2" y="437.5" textLength="111.6" lengthAdjust="spacingAndGlyphs">3000</text>
<text x="2130.2" y="580.4" textLength="111.6" lengthAdjust="spacingAndGlyphs">2500</text>
<text x="2130.2" y="723.2" textLength="111.6" lengthAdjust="spacingAndGlyphs">2000</text>
<text x="2130.2" y="866.1" textLength="111.6" lengthAdjust="spacingAndGlyphs">1500</text>
<text x="2130.2" y="1008.9" textLength="111.6" lengthAdjust="spacingAndGlyphs">1000</text>
<text x="2130.2" y="1151.8" textLength="83.7" lengthAdjust="spacingAndGlyphs">500</text>
<text x="2130.2" y="1294.6" textLength="27.9" lengthAdjust="spacingAndGlyphs">0</text>
</g>
<g class="tick" style="font-size:51.5px;stroke-width:0.2px;fill:#666">
<text transform="translate(241.7,1349.4) rotate(45)">0</text>
<text transform="translate(337.7,1349.4) rotate(45)">30</text>
<text transform="translate(433.7,1349.4) rotate(45)">60</text>
<text transform="translate(529.7,1349.4) rotate(45)">91</text>
<text transform="translate(625.7,1349.4) rotate(45)">121</text>
<text transform="translate(721.7,1349.4) rotate(45)">151</text>
<text transform="translate(817.7,1349.4) rotate(45)">182</text>
<text transform="translate(913.7,1349.4) rotate(45)">212</text>
<text transform="translate(1009.7,1349.4) rotate(45)">242</text>
<text transform="translate(1105.7,1349.4) rotate(45)">273</text>
<text transform="translate(1201.7,1349.4) rotate(45)">303</text>
<text transform="translate(1297.7,1349.4) rotate(45)">333</text>
<text transform="translate(1393.7,1349.4) rotate(45)">364</text>
<text transform="translate(1489.7,1349.4) rotate(45)">394</text>
<text transform="translate(1585.7,1349.4) rotate(45)">424</text>
<text transform="translate(1681.7,1349.4) rotate(45)">455</text>
<text transform="translate(1777.7,1349.4) rotate(45)">485</text>
<text transform="translate(1873.7,1349.4) rotate(45)">515</text>
<text transform="translate(1969.7,1349.4) rotate(45)">546</text>
</g>
<g stroke-width="13" stroke-linecap="round">
<line x1="229.5" y1="95.6" x2="338.5" y2="95.6" stroke="#ed7d31"/>
<line x1="893" y1="98" x2="1002.5" y2="98" stroke="#5b9bd5"/>
<line x1="1570" y1="98.6" x2="1679.5" y2="98.6" stroke="#a5a5a5"/>
</g>
<g class="lg">
<text y="86.9"><tspan x="354.0" textLength="426.9" lengthAdjust="spacingAndGlyphs">Temperature</tspan></text>
<text y="170.7"><tspan x="355.0" textLength="219.6" lengthAdjust="spacingAndGlyphs">before</tspan> <tspan x="595.0" textLength="238.9" lengthAdjust="spacingAndGlyphs">reactor</tspan></text>
<text y="121.3"><tspan x="1015.1" textLength="283.7" lengthAdjust="spacingAndGlyphs">Pressure</tspan> <tspan x="1321.1" textLength="159.5" lengthAdjust="spacingAndGlyphs">drop</tspan></text>
<text y="77.8"><tspan x="1703.9" textLength="330.6" lengthAdjust="spacingAndGlyphs">Corrected</tspan></text>
<text y="162.3"><tspan x="1704.4" textLength="287.0" lengthAdjust="spacingAndGlyphs">pressure</tspan> <tspan x="2013.2" textLength="159.3" lengthAdjust="spacingAndGlyphs">drop</tspan></text>
<text y="1463.5"><tspan x="1100.4" textLength="165.1" lengthAdjust="spacingAndGlyphs">Time</tspan> <tspan x="1286.8" textLength="175.4" lengthAdjust="spacingAndGlyphs">(min)</tspan></text>
</g>
<g class="ax">
<text transform="translate(84.7,0) rotate(-90)" y="0"><tspan x="-1261.0" textLength="283.6" lengthAdjust="spacingAndGlyphs">Exhaust</tspan> <tspan x="-951.6" textLength="127.4" lengthAdjust="spacingAndGlyphs">gas</tspan> <tspan x="-799.2" textLength="601.3" lengthAdjust="spacingAndGlyphs">temperature(°C)</tspan></text>
<text transform="translate(2336.6,0) rotate(-90)" y="0"><tspan x="-1212.0" textLength="282.6" lengthAdjust="spacingAndGlyphs">Reactor</tspan> <tspan x="-905.1" textLength="315.1" lengthAdjust="spacingAndGlyphs">pressure</tspan> <tspan x="-566.0" textLength="143.2" lengthAdjust="spacingAndGlyphs">loss</tspan> <tspan x="-399.9" textLength="137.7" lengthAdjust="spacingAndGlyphs">(Pa)</tspan></text>
</g>
</svg>
</body>
</html>
